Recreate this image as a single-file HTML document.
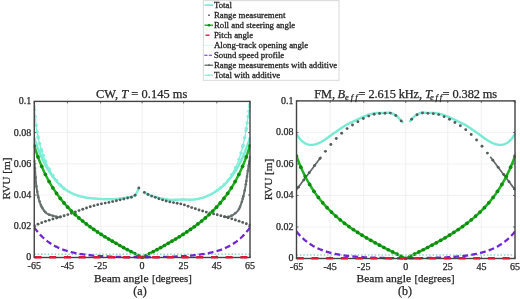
<!DOCTYPE html>
<html><head><meta charset="utf-8"><style>
html,body{margin:0;padding:0;background:#fff;width:520px;height:299px;overflow:hidden}
svg{display:block}
text{font-family:"Liberation Serif","DejaVu Serif",serif;fill:#262626;stroke:#262626;stroke-width:0.25px}
.tk{font-size:10px}
.ti{font-size:12.4px}
.sub{font-size:8.6px}
.lb{font-size:11px}
.xl{font-size:11.3px}
.ab{font-size:12px}
.lg{font-size:8.8px;stroke-width:0.3px}
</style></head><body>
<svg width="520" height="299" viewBox="0 0 520 299">
<rect width="520" height="299" fill="#fff"/>
<line x1="67.44" y1="101.4" x2="67.44" y2="257.5" stroke="#eeeeee" stroke-width="0.8"/>
<line x1="100.63" y1="101.4" x2="100.63" y2="257.5" stroke="#eeeeee" stroke-width="0.8"/>
<line x1="142.12" y1="101.4" x2="142.12" y2="257.5" stroke="#eeeeee" stroke-width="0.8"/>
<line x1="183.62" y1="101.4" x2="183.62" y2="257.5" stroke="#eeeeee" stroke-width="0.8"/>
<line x1="216.81" y1="101.4" x2="216.81" y2="257.5" stroke="#eeeeee" stroke-width="0.8"/>
<line x1="34.25" y1="226.28" x2="250" y2="226.28" stroke="#eeeeee" stroke-width="0.8"/>
<line x1="34.25" y1="195.06" x2="250" y2="195.06" stroke="#eeeeee" stroke-width="0.8"/>
<line x1="34.25" y1="163.84" x2="250" y2="163.84" stroke="#eeeeee" stroke-width="0.8"/>
<line x1="34.25" y1="132.62" x2="250" y2="132.62" stroke="#eeeeee" stroke-width="0.8"/>
<clipPath id="c34"><rect x="33.75" y="100.4" width="216.75" height="159.1"/></clipPath>
<g clip-path="url(#c34)">
<path d="M34.25 137.51 L34.85 139.45 L35.46 141.34 L36.06 143.16 L36.67 144.92 L37.27 146.63 L37.88 148.29 L38.48 149.89 L39.08 151.44 L39.69 152.94 L40.29 154.4 L40.9 155.82 L41.5 157.19 L42.11 158.52 L42.71 159.82 L43.32 161.07 L43.92 162.29 L44.52 163.48 L45.13 164.63 L45.73 165.75 L46.34 166.84 L46.94 167.9 L47.55 168.93 L48.15 169.93 L48.75 170.91 L49.36 171.85 L49.96 172.78 L50.57 173.67 L51.17 174.55 L51.78 175.4 L52.38 176.22 L52.99 177.03 L53.59 177.81 L54.19 178.57 L54.8 179.31 L55.4 180.03 L56.01 180.74 L56.61 181.42 L57.22 182.08 L57.82 182.73 L58.42 183.36 L59.03 183.97 L59.63 184.56 L60.24 185.14 L60.84 185.7 L61.45 186.24 L62.05 186.77 L62.66 187.28 L63.26 187.78 L63.86 188.26 L64.47 188.72 L65.07 189.17 L65.68 189.61 L66.28 190.03 L66.89 190.43 L67.49 190.82 L68.09 191.2 L68.7 191.56 L69.3 191.91 L69.91 192.25 L70.51 192.57 L71.12 192.88 L71.72 193.18 L72.33 193.47 L72.93 193.74 L73.53 194.01 L74.14 194.26 L74.74 194.51 L75.35 194.74 L75.95 194.97 L76.56 195.18 L77.16 195.39 L77.76 195.59 L78.37 195.79 L78.97 195.97 L79.58 196.15 L80.18 196.31 L80.79 196.47 L81.39 196.62 L82 196.76 L82.6 196.9 L83.2 197.03 L83.81 197.15 L84.41 197.26 L85.02 197.37 L85.62 197.48 L86.23 197.58 L86.83 197.68 L87.43 197.77 L88.04 197.86 L88.64 197.94 L89.25 198.02 L89.85 198.09 L90.46 198.15 L91.06 198.22 L91.67 198.27 L92.27 198.33 L92.87 198.38 L93.48 198.43 L94.08 198.47 L94.69 198.52 L95.29 198.56 L95.9 198.61 L96.5 198.65 L97.1 198.7 L97.71 198.74 L98.31 198.79 L98.92 198.84 L99.52 198.89 L100.13 198.94 L100.73 198.99 L101.33 199.04 L101.94 199.08 L102.54 199.12 L103.15 199.15 L103.75 199.18 L104.36 199.2 L104.96 199.23 L105.57 199.25 L106.17 199.27 L106.77 199.29 L107.38 199.3 L107.98 199.31 L108.59 199.32 L109.19 199.32 L109.8 199.32 L110.4 199.31 L111 199.3 L111.61 199.28 L112.21 199.26 L112.82 199.23 L113.42 199.2 L114.03 199.16 L114.63 199.12 L115.24 199.07 L115.84 199.02 L116.44 198.96 L117.05 198.9 L117.65 198.84 L118.26 198.77 L118.86 198.7 L119.47 198.63 L120.07 198.55 L120.67 198.48 L121.28 198.39 L121.88 198.31 L122.49 198.23 L123.09 198.14 L123.7 198.05 L124.3 197.96 L124.91 197.87 L125.51 197.78 L126.11 197.69 L126.72 197.59 L127.32 197.5 L127.93 197.42 L128.53 197.34 L129.14 197.26 L129.74 197.17 L130.34 197.06 L130.95 196.93 L131.55 196.78 L132.16 196.6 L132.76 196.4 L133.37 196.15 L133.97 195.85 L134.58 195.49 L135.18 195.02 L135.78 194.3 L136.39 193.36 L136.99 192.21 L137.6 190.91 L138.2 189.47 L138.81 187.93 M144.35 192.31 L144.94 192.66 L145.53 193 L146.12 193.33 L146.71 193.64 L147.3 193.95 L147.89 194.24 L148.48 194.52 L149.07 194.79 L149.66 195.04 L150.25 195.29 L150.84 195.52 L151.43 195.74 L152.02 195.94 L152.61 196.13 L153.2 196.3 L153.79 196.46 L154.38 196.61 L154.97 196.77 L155.56 196.92 L156.15 197.09 L156.74 197.27 L157.33 197.46 L157.92 197.64 L158.51 197.82 L159.1 197.98 L159.69 198.12 L160.29 198.26 L160.88 198.4 L161.47 198.53 L162.06 198.66 L162.65 198.78 L163.24 198.89 L163.83 199 L164.42 199.11 L165.01 199.21 L165.6 199.3 L166.19 199.39 L166.78 199.47 L167.37 199.54 L167.96 199.61 L168.55 199.67 L169.14 199.73 L169.73 199.77 L170.32 199.81 L170.91 199.84 L171.5 199.86 L172.09 199.87 L172.68 199.87 L173.27 199.87 L173.86 199.86 L174.45 199.84 L175.04 199.82 L175.63 199.8 L176.22 199.77 L176.81 199.75 L177.4 199.72 L177.99 199.69 L178.58 199.66 L179.17 199.63 L179.76 199.6 L180.35 199.58 L180.94 199.56 L181.53 199.54 L182.12 199.53 L182.71 199.52 L183.3 199.53 L183.89 199.54 L184.48 199.55 L185.07 199.57 L185.66 199.59 L186.26 199.61 L186.85 199.64 L187.44 199.66 L188.03 199.68 L188.62 199.69 L189.21 199.7 L189.8 199.71 L190.39 199.7 L190.98 199.69 L191.57 199.67 L192.16 199.65 L192.75 199.6 L193.34 199.55 L193.93 199.49 L194.52 199.42 L195.11 199.34 L195.7 199.26 L196.29 199.17 L196.88 199.07 L197.47 198.97 L198.06 198.85 L198.65 198.74 L199.24 198.61 L199.83 198.48 L200.42 198.34 L201.01 198.19 L201.6 198.03 L202.19 197.86 L202.78 197.69 L203.37 197.51 L203.96 197.32 L204.55 197.12 L205.14 196.91 L205.73 196.69 L206.32 196.47 L206.91 196.23 L207.5 195.98 L208.09 195.72 L208.68 195.46 L209.27 195.18 L209.86 194.89 L210.45 194.59 L211.04 194.28 L211.64 193.96 L212.23 193.63 L212.82 193.29 L213.41 192.95 L214 192.59 L214.59 192.22 L215.18 191.85 L215.77 191.46 L216.36 191.07 L216.95 190.66 L217.54 190.25 L218.13 189.83 L218.72 189.4 L219.31 188.95 L219.9 188.49 L220.49 188.03 L221.08 187.54 L221.67 187.05 L222.26 186.54 L222.85 186.02 L223.44 185.48 L224.03 184.93 L224.62 184.37 L225.21 183.79 L225.8 183.2 L226.39 182.59 L226.98 181.96 L227.57 181.32 L228.16 180.65 L228.75 179.98 L229.34 179.28 L229.93 178.56 L230.52 177.83 L231.11 177.07 L231.7 176.3 L232.29 175.5 L232.88 174.68 L233.47 173.84 L234.06 172.98 L234.65 172.09 L235.24 171.18 L235.83 170.24 L236.42 169.28 L237.01 168.29 L237.61 167.27 L238.2 166.23 L238.79 165.15 L239.38 164.04 L239.97 162.9 L240.56 161.73 L241.15 160.52 L241.74 159.28 L242.33 158 L242.92 156.69 L243.51 155.33 L244.1 153.93 L244.69 152.49 L245.28 151.01 L245.87 149.48 L246.46 147.9 L247.05 146.27 L247.64 144.59 L248.23 142.85 L248.82 141.06 L249.41 139.21 L250 137.3" fill="none" stroke="#78ead3" stroke-width="2.4" stroke-linejoin="round"/>
<path d="M34.25 106.71 L34.85 112.5 L35.46 119.11 L36.06 125.19 L36.67 129.47 L37.27 133.05 L37.88 136.21 L38.48 139.05 L39.08 141.65 L39.69 144.08 L40.29 146.34 L40.9 148.46 L41.5 150.45 L42.11 152.33 L42.71 154.11 L43.32 155.81 L43.92 157.44 L44.52 159 L45.13 160.5 L45.73 161.94 L46.34 163.31 L46.94 164.63 L47.55 165.9 L48.15 167.1 L48.75 168.26 L49.36 169.37 L49.96 170.44 L50.57 171.49 L51.17 172.51 L51.78 173.5 L52.38 174.49 L52.99 175.44 L53.59 176.36 L54.19 177.27 L54.8 178.16 L55.4 179.03 L56.01 179.9 L56.61 180.76 L57.22 181.6 L57.82 182.41 L58.42 183.18 L59.03 183.9 L59.63 184.55 L60.24 185.14 L60.84 185.7 L61.45 186.24 L62.05 186.77 L62.66 187.28 L63.26 187.78 L63.86 188.26 L64.47 188.72 L65.07 189.17 L65.68 189.61 L66.28 190.03 L66.89 190.43 L67.49 190.82 L68.09 191.2 L68.7 191.56 L69.3 191.91 L69.91 192.25 L70.51 192.57 L71.12 192.88 L71.72 193.18 L72.33 193.47 L72.93 193.74 L73.53 194.01 L74.14 194.26 L74.74 194.51 L75.35 194.74 L75.95 194.97 L76.56 195.18 L77.16 195.39 L77.76 195.59 L78.37 195.79 L78.97 195.97 L79.58 196.15 L80.18 196.31 L80.79 196.47 L81.39 196.62 L82 196.76 L82.6 196.9 L83.2 197.03 L83.81 197.15 L84.41 197.26 L85.02 197.37 L85.62 197.48 L86.23 197.58 L86.83 197.68 L87.43 197.77 L88.04 197.86 L88.64 197.94 L89.25 198.02 L89.85 198.09 L90.46 198.15 L91.06 198.22 L91.67 198.27 L92.27 198.33 L92.87 198.38 L93.48 198.43 L94.08 198.47 L94.69 198.52 L95.29 198.56 L95.9 198.61 L96.5 198.65 L97.1 198.7 L97.71 198.74 L98.31 198.79 L98.92 198.84 L99.52 198.89 L100.13 198.94 L100.73 198.99 L101.33 199.04 L101.94 199.08 L102.54 199.12 L103.15 199.15 L103.75 199.18 L104.36 199.2 L104.96 199.23 L105.57 199.25 L106.17 199.27 L106.77 199.29 L107.38 199.3 L107.98 199.31 L108.59 199.32 L109.19 199.32 L109.8 199.32 L110.4 199.31 L111 199.3 L111.61 199.28 L112.21 199.26 L112.82 199.23 L113.42 199.2 L114.03 199.16 L114.63 199.12 L115.24 199.07 L115.84 199.02 L116.44 198.96 L117.05 198.9 L117.65 198.84 L118.26 198.77 L118.86 198.7 L119.47 198.63 L120.07 198.55 L120.67 198.48 L121.28 198.39 L121.88 198.31 L122.49 198.23 L123.09 198.14 L123.7 198.05 L124.3 197.96 L124.91 197.87 L125.51 197.78 L126.11 197.69 L126.72 197.59 L127.32 197.5 L127.93 197.42 L128.53 197.34 L129.14 197.26 L129.74 197.17 L130.34 197.06 L130.95 196.93 L131.55 196.78 L132.16 196.6 L132.76 196.4 L133.37 196.15 L133.97 195.85 L134.58 195.49 L135.18 195.02 L135.78 194.3 L136.39 193.36 L136.99 192.21 L137.6 190.91 L138.2 189.47 L138.81 187.93 M144.35 192.31 L144.94 192.66 L145.53 193 L146.12 193.33 L146.71 193.64 L147.3 193.95 L147.89 194.24 L148.48 194.52 L149.07 194.79 L149.66 195.04 L150.25 195.29 L150.84 195.52 L151.43 195.74 L152.02 195.94 L152.61 196.13 L153.2 196.3 L153.79 196.46 L154.38 196.61 L154.97 196.77 L155.56 196.92 L156.15 197.09 L156.74 197.27 L157.33 197.46 L157.92 197.64 L158.51 197.82 L159.1 197.98 L159.69 198.12 L160.29 198.26 L160.88 198.4 L161.47 198.53 L162.06 198.66 L162.65 198.78 L163.24 198.89 L163.83 199 L164.42 199.11 L165.01 199.21 L165.6 199.3 L166.19 199.39 L166.78 199.47 L167.37 199.54 L167.96 199.61 L168.55 199.67 L169.14 199.73 L169.73 199.77 L170.32 199.81 L170.91 199.84 L171.5 199.86 L172.09 199.87 L172.68 199.87 L173.27 199.87 L173.86 199.86 L174.45 199.84 L175.04 199.82 L175.63 199.8 L176.22 199.77 L176.81 199.75 L177.4 199.72 L177.99 199.69 L178.58 199.66 L179.17 199.63 L179.76 199.6 L180.35 199.58 L180.94 199.56 L181.53 199.54 L182.12 199.53 L182.71 199.52 L183.3 199.53 L183.89 199.54 L184.48 199.55 L185.07 199.57 L185.66 199.59 L186.26 199.61 L186.85 199.64 L187.44 199.66 L188.03 199.68 L188.62 199.69 L189.21 199.7 L189.8 199.71 L190.39 199.7 L190.98 199.69 L191.57 199.67 L192.16 199.65 L192.75 199.6 L193.34 199.55 L193.93 199.49 L194.52 199.42 L195.11 199.34 L195.7 199.26 L196.29 199.17 L196.88 199.07 L197.47 198.97 L198.06 198.85 L198.65 198.74 L199.24 198.61 L199.83 198.48 L200.42 198.34 L201.01 198.19 L201.6 198.03 L202.19 197.86 L202.78 197.69 L203.37 197.51 L203.96 197.32 L204.55 197.12 L205.14 196.91 L205.73 196.69 L206.32 196.47 L206.91 196.23 L207.5 195.98 L208.09 195.72 L208.68 195.46 L209.27 195.18 L209.86 194.89 L210.45 194.59 L211.04 194.28 L211.64 193.96 L212.23 193.63 L212.82 193.29 L213.41 192.95 L214 192.59 L214.59 192.22 L215.18 191.85 L215.77 191.46 L216.36 191.07 L216.95 190.66 L217.54 190.25 L218.13 189.83 L218.72 189.4 L219.31 188.95 L219.9 188.49 L220.49 188.03 L221.08 187.54 L221.67 187.05 L222.26 186.54 L222.85 186.02 L223.44 185.48 L224.03 184.93 L224.62 184.37 L225.21 183.76 L225.8 183.12 L226.39 182.44 L226.98 181.72 L227.57 180.97 L228.16 180.18 L228.75 179.35 L229.34 178.49 L229.93 177.6 L230.52 176.67 L231.11 175.71 L231.7 174.72 L232.29 173.69 L232.88 172.63 L233.47 171.53 L234.06 170.4 L234.65 169.25 L235.24 168.08 L235.83 166.86 L236.42 165.61 L237.01 164.3 L237.61 162.93 L238.2 161.48 L238.79 159.94 L239.38 158.28 L239.97 156.48 L240.56 154.57 L241.15 152.55 L241.74 150.44 L242.33 148.21 L242.92 145.84 L243.51 143.31 L244.1 140.63 L244.69 137.78 L245.28 134.74 L245.87 131.47 L246.46 127.83 L247.05 123.89 L247.64 119.88 L248.23 116.04 L248.82 112.34 L249.41 108.47 L250 104.15" fill="none" stroke="#80eed8" stroke-width="1.3"/>
<circle cx="34.25" cy="106.71" r="1.7" fill="#80eed8"/><circle cx="37.98" cy="136.74" r="1.7" fill="#80eed8"/><circle cx="41.72" cy="151.13" r="1.7" fill="#80eed8"/><circle cx="45.45" cy="161.28" r="1.7" fill="#80eed8"/><circle cx="49.19" cy="169.06" r="1.7" fill="#80eed8"/><circle cx="52.92" cy="175.34" r="1.7" fill="#80eed8"/><circle cx="56.65" cy="180.82" r="1.7" fill="#80eed8"/><circle cx="60.39" cy="185.28" r="1.7" fill="#80eed8"/><circle cx="64.12" cy="188.46" r="1.7" fill="#80eed8"/><circle cx="217.21" cy="190.48" r="1.7" fill="#80eed8"/><circle cx="220.85" cy="187.73" r="1.7" fill="#80eed8"/><circle cx="224.5" cy="184.49" r="1.7" fill="#80eed8"/><circle cx="228.14" cy="180.21" r="1.7" fill="#80eed8"/><circle cx="231.78" cy="174.58" r="1.7" fill="#80eed8"/><circle cx="235.43" cy="167.7" r="1.7" fill="#80eed8"/><circle cx="239.07" cy="159.16" r="1.7" fill="#80eed8"/><circle cx="242.71" cy="146.67" r="1.7" fill="#80eed8"/><circle cx="246.36" cy="128.49" r="1.7" fill="#80eed8"/><circle cx="250" cy="104.15" r="1.7" fill="#80eed8"/><circle cx="34.58" cy="109.84" r="1.7" fill="#80eed8"/><circle cx="35.25" cy="116.73" r="1.7" fill="#80eed8"/><circle cx="36.08" cy="125.3" r="1.7" fill="#80eed8"/><circle cx="37.07" cy="131.91" r="1.7" fill="#80eed8"/><circle cx="38.23" cy="137.92" r="1.7" fill="#80eed8"/><circle cx="39.56" cy="143.57" r="1.7" fill="#80eed8"/><circle cx="41.22" cy="149.54" r="1.7" fill="#80eed8"/><circle cx="43.21" cy="155.52" r="1.7" fill="#80eed8"/><circle cx="241.04" cy="152.93" r="1.7" fill="#80eed8"/><circle cx="243.03" cy="145.37" r="1.7" fill="#80eed8"/><circle cx="244.69" cy="137.77" r="1.7" fill="#80eed8"/><circle cx="246.02" cy="130.59" r="1.7" fill="#80eed8"/><circle cx="247.18" cy="123" r="1.7" fill="#80eed8"/><circle cx="248.17" cy="116.39" r="1.7" fill="#80eed8"/><circle cx="249" cy="111.16" r="1.7" fill="#80eed8"/><circle cx="249.67" cy="106.64" r="1.7" fill="#80eed8"/>
<path d="M34.25 160.84 L34.58 164.28 L34.9 168.01 L35.23 172.37 L35.55 176.98 L35.88 181.29 L36.2 184.8 L36.53 187.3 L36.85 189.5 L37.18 191.49 L37.51 193.28 L37.83 194.9 L38.16 196.37 L38.48 197.71 L38.81 198.94 L39.13 200.09 L39.46 201.17 L39.79 202.19 L40.11 203.13 L40.44 204.01 L40.76 204.82 L41.09 205.58 L41.41 206.28 L41.74 206.93 L42.06 207.55 L42.39 208.12 L42.72 208.65 L43.04 209.16 L43.37 209.65 L43.69 210.11 L44.02 210.54 L44.34 210.96 L44.67 211.35 L45 211.71 L45.32 212.06 L45.65 212.38 L45.97 212.68 L46.3 212.97 L46.62 213.23 L46.95 213.47 L47.27 213.7 L47.6 213.91 L47.93 214.09 L48.25 214.26 L48.58 214.41 L48.9 214.55 L49.23 214.67 L49.55 214.79 L49.88 214.9 L50.21 215 L50.53 215.1 L50.86 215.19 L51.18 215.29 L51.51 215.38 L51.83 215.48 L52.16 215.58 L52.48 215.68 L52.81 215.77 L53.14 215.85 L53.46 215.93 L53.79 216 L54.11 216.08 L54.44 216.15 L54.76 216.23 L55.09 216.31 L55.42 216.39 L55.74 216.48 L56.07 216.58 L56.39 216.67 L56.72 216.77 L57.04 216.86 L57.37 216.95 L57.69 217.02 L58.02 217.09 L58.35 217.14 L58.67 217.16 L59 217.17 L59.32 217.15 L59.65 217.1 L59.97 217.02 M224.28 216.69 L224.6 216.77 L224.93 216.85 L225.25 216.9 L225.58 216.95 L225.9 216.99 L226.23 217.01 L226.56 217.02 L226.88 217.01 L227.21 217 L227.53 216.97 L227.86 216.93 L228.18 216.88 L228.51 216.82 L228.83 216.74 L229.16 216.66 L229.49 216.56 L229.81 216.45 L230.14 216.34 L230.46 216.21 L230.79 216.07 L231.11 215.92 L231.44 215.77 L231.77 215.6 L232.09 215.42 L232.42 215.23 L232.74 215.03 L233.07 214.82 L233.39 214.6 L233.72 214.37 L234.04 214.14 L234.37 213.91 L234.7 213.67 L235.02 213.43 L235.35 213.18 L235.67 212.93 L236 212.66 L236.32 212.37 L236.65 212.07 L236.98 211.74 L237.3 211.39 L237.63 211.01 L237.95 210.6 L238.28 210.16 L238.6 209.67 L238.93 209.13 L239.25 208.51 L239.58 207.84 L239.91 207.1 L240.23 206.31 L240.56 205.47 L240.88 204.58 L241.21 203.65 L241.53 202.69 L241.86 201.7 L242.19 200.65 L242.51 199.54 L242.84 198.36 L243.16 197.12 L243.49 195.82 L243.81 194.46 L244.14 193.04 L244.46 191.55 L244.79 189.99 L245.12 188.35 L245.44 186.62 L245.77 184.81 L246.09 182.84 L246.42 180.69 L246.74 178.41 L247.07 176.07 L247.4 173.74 L247.72 171.49 L248.05 169.38 L248.37 167.41 L248.7 165.5 L249.02 163.57 L249.35 161.53 L249.67 159.31 L250 156.9" fill="none" stroke="#67716f" stroke-width="2.0" stroke-linejoin="round"/>
<circle cx="34.25" cy="160.84" r="1.3" fill="#67716f"/><circle cx="37.98" cy="195.6" r="1.3" fill="#67716f"/><circle cx="41.72" cy="206.89" r="1.3" fill="#67716f"/><circle cx="45.45" cy="212.19" r="1.3" fill="#67716f"/><circle cx="49.19" cy="214.66" r="1.3" fill="#67716f"/><circle cx="52.92" cy="215.8" r="1.3" fill="#67716f"/><circle cx="56.65" cy="216.75" r="1.3" fill="#67716f"/><circle cx="60.39" cy="216.9" r="1.3" fill="#67716f"/><circle cx="224.5" cy="216.75" r="1.3" fill="#67716f"/><circle cx="228.14" cy="216.89" r="1.3" fill="#67716f"/><circle cx="231.78" cy="215.59" r="1.3" fill="#67716f"/><circle cx="235.43" cy="213.12" r="1.3" fill="#67716f"/><circle cx="239.07" cy="208.87" r="1.3" fill="#67716f"/><circle cx="242.71" cy="198.81" r="1.3" fill="#67716f"/><circle cx="246.36" cy="181.11" r="1.3" fill="#67716f"/><circle cx="250" cy="156.9" r="1.3" fill="#67716f"/><circle cx="34.91" cy="168.17" r="1.3" fill="#67716f"/><circle cx="35.58" cy="177.33" r="1.3" fill="#67716f"/><circle cx="36.41" cy="186.41" r="1.3" fill="#67716f"/><circle cx="37.24" cy="191.82" r="1.3" fill="#67716f"/><circle cx="38.4" cy="197.38" r="1.3" fill="#67716f"/><circle cx="39.56" cy="201.5" r="1.3" fill="#67716f"/><circle cx="40.89" cy="205.12" r="1.3" fill="#67716f"/><circle cx="42.38" cy="208.1" r="1.3" fill="#67716f"/><circle cx="44.21" cy="210.79" r="1.3" fill="#67716f"/><circle cx="240.04" cy="206.78" r="1.3" fill="#67716f"/><circle cx="241.87" cy="201.68" r="1.3" fill="#67716f"/><circle cx="243.36" cy="196.33" r="1.3" fill="#67716f"/><circle cx="244.69" cy="190.48" r="1.3" fill="#67716f"/><circle cx="245.85" cy="184.32" r="1.3" fill="#67716f"/><circle cx="247.01" cy="176.48" r="1.3" fill="#67716f"/><circle cx="247.84" cy="170.68" r="1.3" fill="#67716f"/><circle cx="248.67" cy="165.65" r="1.3" fill="#67716f"/><circle cx="249.34" cy="161.62" r="1.3" fill="#67716f"/>
<circle cx="34.25" cy="225.81" r="1.45" fill="#535d5b"/><circle cx="37.98" cy="224.16" r="1.45" fill="#535d5b"/><circle cx="41.72" cy="222.67" r="1.45" fill="#535d5b"/><circle cx="45.45" cy="221.35" r="1.45" fill="#535d5b"/><circle cx="49.19" cy="220.16" r="1.45" fill="#535d5b"/><circle cx="52.92" cy="219.05" r="1.45" fill="#535d5b"/><circle cx="56.65" cy="217.98" r="1.45" fill="#535d5b"/><circle cx="60.39" cy="216.9" r="1.45" fill="#535d5b"/><circle cx="64.12" cy="215.79" r="1.45" fill="#535d5b"/><circle cx="67.86" cy="214.58" r="1.45" fill="#535d5b"/><circle cx="71.59" cy="213.27" r="1.45" fill="#535d5b"/><circle cx="75.33" cy="211.92" r="1.45" fill="#535d5b"/><circle cx="79.06" cy="210.59" r="1.45" fill="#535d5b"/><circle cx="82.79" cy="209.27" r="1.45" fill="#535d5b"/><circle cx="86.53" cy="207.98" r="1.45" fill="#535d5b"/><circle cx="90.26" cy="206.78" r="1.45" fill="#535d5b"/><circle cx="94" cy="205.63" r="1.45" fill="#535d5b"/><circle cx="97.73" cy="204.64" r="1.45" fill="#535d5b"/><circle cx="101.46" cy="203.85" r="1.45" fill="#535d5b"/><circle cx="105.2" cy="203.11" r="1.45" fill="#535d5b"/><circle cx="108.93" cy="202.38" r="1.45" fill="#535d5b"/><circle cx="112.67" cy="201.61" r="1.45" fill="#535d5b"/><circle cx="116.4" cy="200.75" r="1.45" fill="#535d5b"/><circle cx="120.14" cy="199.84" r="1.45" fill="#535d5b"/><circle cx="123.87" cy="198.93" r="1.45" fill="#535d5b"/><circle cx="127.6" cy="198.05" r="1.45" fill="#535d5b"/><circle cx="131.34" cy="197.19" r="1.45" fill="#535d5b"/><circle cx="135.07" cy="195.32" r="1.45" fill="#535d5b"/><circle cx="138.81" cy="188.04" r="1.45" fill="#535d5b"/><circle cx="144.35" cy="192.41" r="1.45" fill="#535d5b"/><circle cx="147.99" cy="194.45" r="1.45" fill="#535d5b"/><circle cx="151.64" cy="196.11" r="1.45" fill="#535d5b"/><circle cx="155.28" cy="197.34" r="1.45" fill="#535d5b"/><circle cx="158.92" cy="198.7" r="1.45" fill="#535d5b"/><circle cx="162.56" cy="199.89" r="1.45" fill="#535d5b"/><circle cx="166.21" cy="200.97" r="1.45" fill="#535d5b"/><circle cx="169.85" cy="201.89" r="1.45" fill="#535d5b"/><circle cx="173.49" cy="202.61" r="1.45" fill="#535d5b"/><circle cx="177.14" cy="203.2" r="1.45" fill="#535d5b"/><circle cx="180.78" cy="203.88" r="1.45" fill="#535d5b"/><circle cx="184.42" cy="204.88" r="1.45" fill="#535d5b"/><circle cx="188.07" cy="206.2" r="1.45" fill="#535d5b"/><circle cx="191.71" cy="207.59" r="1.45" fill="#535d5b"/><circle cx="195.35" cy="208.8" r="1.45" fill="#535d5b"/><circle cx="199" cy="209.95" r="1.45" fill="#535d5b"/><circle cx="202.64" cy="211.04" r="1.45" fill="#535d5b"/><circle cx="206.28" cy="212.08" r="1.45" fill="#535d5b"/><circle cx="209.93" cy="213.01" r="1.45" fill="#535d5b"/><circle cx="213.57" cy="213.88" r="1.45" fill="#535d5b"/><circle cx="217.21" cy="214.77" r="1.45" fill="#535d5b"/><circle cx="220.85" cy="215.75" r="1.45" fill="#535d5b"/><circle cx="224.5" cy="216.75" r="1.45" fill="#535d5b"/><circle cx="228.14" cy="217.79" r="1.45" fill="#535d5b"/><circle cx="231.78" cy="218.87" r="1.45" fill="#535d5b"/><circle cx="235.43" cy="219.99" r="1.45" fill="#535d5b"/><circle cx="239.07" cy="221.16" r="1.45" fill="#535d5b"/><circle cx="242.71" cy="222.4" r="1.45" fill="#535d5b"/><circle cx="246.36" cy="223.69" r="1.45" fill="#535d5b"/><circle cx="250" cy="225.03" r="1.45" fill="#535d5b"/>
<path d="M34.25 145.76 L35.16 148.67 L36.06 151.45 L36.97 154.12 L37.88 156.67 L38.78 159.12 L39.69 161.48 L40.6 163.75 L41.5 165.93 L42.41 168.03 L43.32 170.06 L44.22 172.02 L45.13 173.91 L46.03 175.74 L46.94 177.51 L47.85 179.23 L48.75 180.89 L49.66 182.5 L50.57 184.07 L51.47 185.59 L52.38 187.06 L53.29 188.5 L54.19 189.89 L55.1 191.25 L56.01 192.58 L56.91 193.87 L57.82 195.13 L58.73 196.36 L59.63 197.55 L60.54 198.72 L61.45 199.87 L62.35 200.98 L63.26 202.08 L64.16 203.15 L65.07 204.19 L65.98 205.22 L66.88 206.22 L67.79 207.21 L68.7 208.17 L69.6 209.12 L70.51 210.04 L71.42 210.96 L72.32 211.85 L73.23 212.73 L74.14 213.59 L75.04 214.44 L75.95 215.27 L76.86 216.1 L77.76 216.9 L78.67 217.7 L79.58 218.48 L80.48 219.25 L81.39 220.01 L82.3 220.76 L83.2 221.49 L84.11 222.22 L85.01 222.94 L85.92 223.64 L86.83 224.34 L87.73 225.03 L88.64 225.71 L89.55 226.38 L90.45 227.05 L91.36 227.7 L92.27 228.35 L93.17 228.99 L94.08 229.63 L94.99 230.25 L95.89 230.87 L96.8 231.49 L97.71 232.1 L98.61 232.7 L99.52 233.29 L100.43 233.88 L101.33 234.47 L102.24 235.05 L103.14 235.62 L104.05 236.19 L104.96 236.76 L105.86 237.32 L106.77 237.88 L107.68 238.43 L108.58 238.98 L109.49 239.52 L110.4 240.06 L111.3 240.6 L112.21 241.13 L113.12 241.66 L114.02 242.19 L114.93 242.71 L115.84 243.23 L116.74 243.75 L117.65 244.26 L118.56 244.77 L119.46 245.28 L120.37 245.79 L121.28 246.29 L122.18 246.8 L123.09 247.3 L123.99 247.8 L124.9 248.29 L125.81 248.79 L126.71 249.28 L127.62 249.77 L128.53 250.26 L129.43 250.75 L130.34 251.24 L131.25 251.72 L132.15 252.21 L133.06 252.69 L133.97 253.18 L134.87 253.66 L135.78 254.14 L136.69 254.62 L137.59 255.1 L138.5 255.58 L139.41 256.06 L140.31 256.54 L141.22 257.02 L142.12 257.5 M142.12 257.5 L143.03 257.02 L143.94 256.54 L144.84 256.06 L145.75 255.58 L146.66 255.1 L147.56 254.62 L148.47 254.14 L149.38 253.66 L150.28 253.18 L151.19 252.69 L152.1 252.21 L153 251.72 L153.91 251.24 L154.82 250.75 L155.72 250.26 L156.63 249.77 L157.54 249.28 L158.44 248.79 L159.35 248.29 L160.26 247.8 L161.16 247.3 L162.07 246.8 L162.97 246.29 L163.88 245.79 L164.79 245.28 L165.69 244.77 L166.6 244.26 L167.51 243.75 L168.41 243.23 L169.32 242.71 L170.23 242.19 L171.13 241.66 L172.04 241.13 L172.95 240.6 L173.85 240.06 L174.76 239.52 L175.67 238.98 L176.57 238.43 L177.48 237.88 L178.39 237.32 L179.29 236.76 L180.2 236.19 L181.11 235.62 L182.01 235.05 L182.92 234.47 L183.82 233.88 L184.73 233.29 L185.64 232.7 L186.54 232.1 L187.45 231.49 L188.36 230.87 L189.26 230.25 L190.17 229.63 L191.08 228.99 L191.98 228.35 L192.89 227.7 L193.8 227.05 L194.7 226.38 L195.61 225.71 L196.52 225.03 L197.42 224.34 L198.33 223.64 L199.24 222.94 L200.14 222.22 L201.05 221.49 L201.95 220.76 L202.86 220.01 L203.77 219.25 L204.67 218.48 L205.58 217.7 L206.49 216.9 L207.39 216.1 L208.3 215.27 L209.21 214.44 L210.11 213.59 L211.02 212.73 L211.93 211.85 L212.83 210.96 L213.74 210.04 L214.65 209.12 L215.55 208.17 L216.46 207.21 L217.37 206.22 L218.27 205.22 L219.18 204.19 L220.09 203.15 L220.99 202.08 L221.9 200.98 L222.8 199.87 L223.71 198.72 L224.62 197.55 L225.52 196.36 L226.43 195.13 L227.34 193.87 L228.24 192.58 L229.15 191.25 L230.06 189.89 L230.96 188.5 L231.87 187.06 L232.78 185.59 L233.68 184.07 L234.59 182.5 L235.5 180.89 L236.4 179.23 L237.31 177.51 L238.22 175.74 L239.12 173.91 L240.03 172.02 L240.93 170.06 L241.84 168.03 L242.75 165.93 L243.65 163.75 L244.56 161.48 L245.47 159.12 L246.37 156.67 L247.28 154.12 L248.19 151.45 L249.09 148.67 L250 145.76" fill="none" stroke="#1eb21e" stroke-width="2.5"/>
<circle cx="34.25" cy="145.76" r="1.85" fill="#0e8c0e"/><circle cx="37.97" cy="156.93" r="1.85" fill="#0e8c0e"/><circle cx="41.69" cy="166.37" r="1.85" fill="#0e8c0e"/><circle cx="45.41" cy="174.49" r="1.85" fill="#0e8c0e"/><circle cx="49.13" cy="181.56" r="1.85" fill="#0e8c0e"/><circle cx="52.85" cy="187.81" r="1.85" fill="#0e8c0e"/><circle cx="56.57" cy="193.38" r="1.85" fill="#0e8c0e"/><circle cx="60.29" cy="198.4" r="1.85" fill="#0e8c0e"/><circle cx="64.01" cy="202.96" r="1.85" fill="#0e8c0e"/><circle cx="67.73" cy="207.14" r="1.85" fill="#0e8c0e"/><circle cx="71.45" cy="210.99" r="1.85" fill="#0e8c0e"/><circle cx="75.17" cy="214.56" r="1.85" fill="#0e8c0e"/><circle cx="78.89" cy="217.89" r="1.85" fill="#0e8c0e"/><circle cx="82.61" cy="221.01" r="1.85" fill="#0e8c0e"/><circle cx="86.33" cy="223.96" r="1.85" fill="#0e8c0e"/><circle cx="90.05" cy="226.75" r="1.85" fill="#0e8c0e"/><circle cx="93.77" cy="229.41" r="1.85" fill="#0e8c0e"/><circle cx="97.49" cy="231.95" r="1.85" fill="#0e8c0e"/><circle cx="101.21" cy="234.39" r="1.85" fill="#0e8c0e"/><circle cx="104.93" cy="236.74" r="1.85" fill="#0e8c0e"/><circle cx="108.65" cy="239.01" r="1.85" fill="#0e8c0e"/><circle cx="112.37" cy="241.22" r="1.85" fill="#0e8c0e"/><circle cx="116.09" cy="243.37" r="1.85" fill="#0e8c0e"/><circle cx="119.81" cy="245.48" r="1.85" fill="#0e8c0e"/><circle cx="123.53" cy="247.54" r="1.85" fill="#0e8c0e"/><circle cx="127.25" cy="249.57" r="1.85" fill="#0e8c0e"/><circle cx="130.97" cy="251.57" r="1.85" fill="#0e8c0e"/><circle cx="134.69" cy="253.56" r="1.85" fill="#0e8c0e"/><circle cx="138.41" cy="255.53" r="1.85" fill="#0e8c0e"/><circle cx="142.12" cy="257.5" r="1.85" fill="#0e8c0e"/><circle cx="145.84" cy="255.53" r="1.85" fill="#0e8c0e"/><circle cx="149.56" cy="253.56" r="1.85" fill="#0e8c0e"/><circle cx="153.28" cy="251.57" r="1.85" fill="#0e8c0e"/><circle cx="157" cy="249.57" r="1.85" fill="#0e8c0e"/><circle cx="160.72" cy="247.54" r="1.85" fill="#0e8c0e"/><circle cx="164.44" cy="245.48" r="1.85" fill="#0e8c0e"/><circle cx="168.16" cy="243.37" r="1.85" fill="#0e8c0e"/><circle cx="171.88" cy="241.22" r="1.85" fill="#0e8c0e"/><circle cx="175.6" cy="239.01" r="1.85" fill="#0e8c0e"/><circle cx="179.32" cy="236.74" r="1.85" fill="#0e8c0e"/><circle cx="183.04" cy="234.39" r="1.85" fill="#0e8c0e"/><circle cx="186.76" cy="231.95" r="1.85" fill="#0e8c0e"/><circle cx="190.48" cy="229.41" r="1.85" fill="#0e8c0e"/><circle cx="194.2" cy="226.75" r="1.85" fill="#0e8c0e"/><circle cx="197.92" cy="223.96" r="1.85" fill="#0e8c0e"/><circle cx="201.64" cy="221.01" r="1.85" fill="#0e8c0e"/><circle cx="205.36" cy="217.89" r="1.85" fill="#0e8c0e"/><circle cx="209.08" cy="214.56" r="1.85" fill="#0e8c0e"/><circle cx="212.8" cy="210.99" r="1.85" fill="#0e8c0e"/><circle cx="216.52" cy="207.14" r="1.85" fill="#0e8c0e"/><circle cx="220.24" cy="202.96" r="1.85" fill="#0e8c0e"/><circle cx="223.96" cy="198.4" r="1.85" fill="#0e8c0e"/><circle cx="227.68" cy="193.38" r="1.85" fill="#0e8c0e"/><circle cx="231.4" cy="187.81" r="1.85" fill="#0e8c0e"/><circle cx="235.12" cy="181.56" r="1.85" fill="#0e8c0e"/><circle cx="238.84" cy="174.49" r="1.85" fill="#0e8c0e"/><circle cx="242.56" cy="166.37" r="1.85" fill="#0e8c0e"/><circle cx="246.28" cy="156.93" r="1.85" fill="#0e8c0e"/><circle cx="250" cy="145.76" r="1.85" fill="#0e8c0e"/>
<path d="M34.25 254.22 L250 254.22" fill="none" stroke="#8ad8c4" stroke-width="1.6" stroke-dasharray="1.5 1.9"/>
<path d="M34.25 227.53 L35.62 229.37 L36.98 231.09 L38.35 232.71 L39.71 234.23 L41.08 235.66 L42.44 237 L43.81 238.26 L45.17 239.44 L46.54 240.54 L47.91 241.58 L49.27 242.56 L50.64 243.48 L52 244.34 L53.37 245.14 L54.73 245.9 L56.1 246.61 L57.46 247.28 L58.83 247.91 L60.19 248.5 L61.56 249.05 L62.93 249.57 L64.29 250.05 L65.66 250.51 L67.02 250.94 L68.39 251.34 L69.75 251.72 L71.12 252.07 L72.48 252.41 L73.85 252.72 L75.22 253.01 L76.58 253.29 L77.95 253.55 L79.31 253.79 L80.68 254.02 L82.04 254.23 L83.41 254.43 L84.77 254.62 L86.14 254.79 L87.5 254.96 L88.87 255.12 L90.24 255.26 L91.6 255.4 L92.97 255.53 L94.33 255.65 L95.7 255.76 L97.06 255.87 L98.43 255.97 L99.79 256.06 L101.16 256.15 L102.53 256.23 L103.89 256.31 L105.26 256.38 L106.62 256.45 L107.99 256.52 L109.35 256.58 L110.72 256.63 L112.08 256.69 L113.45 256.74 L114.81 256.78 L116.18 256.83 L117.55 256.87 L118.91 256.91 L120.28 256.94 L121.64 256.98 L123.01 257.01 L124.37 257.04 L125.74 257.07 L127.1 257.09 L128.47 257.12 L129.84 257.14 L131.2 257.16 L132.57 257.19 L133.93 257.2 L135.3 257.22 L136.66 257.24 L138.03 257.26 L139.39 257.27 L140.76 257.28 L142.12 257.3" fill="none" stroke="#7126d6" stroke-width="2.3" stroke-dasharray="5.8 3.2"/>
<path d="M250 227.53 L248.63 229.37 L247.27 231.09 L245.9 232.71 L244.54 234.23 L243.17 235.66 L241.81 237 L240.44 238.26 L239.08 239.44 L237.71 240.54 L236.34 241.58 L234.98 242.56 L233.61 243.48 L232.25 244.34 L230.88 245.14 L229.52 245.9 L228.15 246.61 L226.79 247.28 L225.42 247.91 L224.06 248.5 L222.69 249.05 L221.32 249.57 L219.96 250.05 L218.59 250.51 L217.23 250.94 L215.86 251.34 L214.5 251.72 L213.13 252.07 L211.77 252.41 L210.4 252.72 L209.03 253.01 L207.67 253.29 L206.3 253.55 L204.94 253.79 L203.57 254.02 L202.21 254.23 L200.84 254.43 L199.48 254.62 L198.11 254.79 L196.75 254.96 L195.38 255.12 L194.01 255.26 L192.65 255.4 L191.28 255.53 L189.92 255.65 L188.55 255.76 L187.19 255.87 L185.82 255.97 L184.46 256.06 L183.09 256.15 L181.72 256.23 L180.36 256.31 L178.99 256.38 L177.63 256.45 L176.26 256.52 L174.9 256.58 L173.53 256.63 L172.17 256.69 L170.8 256.74 L169.44 256.78 L168.07 256.83 L166.7 256.87 L165.34 256.91 L163.97 256.94 L162.61 256.98 L161.24 257.01 L159.88 257.04 L158.51 257.07 L157.15 257.09 L155.78 257.12 L154.41 257.14 L153.05 257.16 L151.68 257.19 L150.32 257.2 L148.95 257.22 L147.59 257.24 L146.22 257.26 L144.86 257.27 L143.49 257.28 L142.12 257.3" fill="none" stroke="#7126d6" stroke-width="2.3" stroke-dasharray="5.8 3.2"/>
</g>
<rect x="34.25" y="101.4" width="215.75" height="156.1" fill="none" stroke="#424242" stroke-width="1.4"/>
<path d="M34.25 257.19 L250 257.19" fill="none" stroke="#e0183a" stroke-width="2.4" stroke-dasharray="7 7.7" stroke-dashoffset="-0.3"/>
<line x1="34.25" y1="257.5" x2="34.25" y2="255.5" stroke="#424242" stroke-width="0.8"/>
<line x1="34.25" y1="101.4" x2="34.25" y2="103.4" stroke="#424242" stroke-width="0.8"/>
<line x1="67.44" y1="257.5" x2="67.44" y2="255.5" stroke="#424242" stroke-width="0.8"/>
<line x1="67.44" y1="101.4" x2="67.44" y2="103.4" stroke="#424242" stroke-width="0.8"/>
<line x1="100.63" y1="257.5" x2="100.63" y2="255.5" stroke="#424242" stroke-width="0.8"/>
<line x1="100.63" y1="101.4" x2="100.63" y2="103.4" stroke="#424242" stroke-width="0.8"/>
<line x1="142.12" y1="257.5" x2="142.12" y2="255.5" stroke="#424242" stroke-width="0.8"/>
<line x1="142.12" y1="101.4" x2="142.12" y2="103.4" stroke="#424242" stroke-width="0.8"/>
<line x1="183.62" y1="257.5" x2="183.62" y2="255.5" stroke="#424242" stroke-width="0.8"/>
<line x1="183.62" y1="101.4" x2="183.62" y2="103.4" stroke="#424242" stroke-width="0.8"/>
<line x1="216.81" y1="257.5" x2="216.81" y2="255.5" stroke="#424242" stroke-width="0.8"/>
<line x1="216.81" y1="101.4" x2="216.81" y2="103.4" stroke="#424242" stroke-width="0.8"/>
<line x1="250" y1="257.5" x2="250" y2="255.5" stroke="#424242" stroke-width="0.8"/>
<line x1="250" y1="101.4" x2="250" y2="103.4" stroke="#424242" stroke-width="0.8"/>
<line x1="34.25" y1="257.5" x2="36.25" y2="257.5" stroke="#424242" stroke-width="0.8"/>
<line x1="250" y1="257.5" x2="248" y2="257.5" stroke="#424242" stroke-width="0.8"/>
<line x1="34.25" y1="226.28" x2="36.25" y2="226.28" stroke="#424242" stroke-width="0.8"/>
<line x1="250" y1="226.28" x2="248" y2="226.28" stroke="#424242" stroke-width="0.8"/>
<line x1="34.25" y1="195.06" x2="36.25" y2="195.06" stroke="#424242" stroke-width="0.8"/>
<line x1="250" y1="195.06" x2="248" y2="195.06" stroke="#424242" stroke-width="0.8"/>
<line x1="34.25" y1="163.84" x2="36.25" y2="163.84" stroke="#424242" stroke-width="0.8"/>
<line x1="250" y1="163.84" x2="248" y2="163.84" stroke="#424242" stroke-width="0.8"/>
<line x1="34.25" y1="132.62" x2="36.25" y2="132.62" stroke="#424242" stroke-width="0.8"/>
<line x1="250" y1="132.62" x2="248" y2="132.62" stroke="#424242" stroke-width="0.8"/>
<line x1="34.25" y1="101.4" x2="36.25" y2="101.4" stroke="#424242" stroke-width="0.8"/>
<line x1="250" y1="101.4" x2="248" y2="101.4" stroke="#424242" stroke-width="0.8"/>
<text x="34.25" y="268.8" class="tk" text-anchor="middle">-65</text>
<text x="67.44" y="268.8" class="tk" text-anchor="middle">-45</text>
<text x="100.63" y="268.8" class="tk" text-anchor="middle">-25</text>
<text x="142.12" y="268.8" class="tk" text-anchor="middle">0</text>
<text x="183.62" y="268.8" class="tk" text-anchor="middle">25</text>
<text x="216.81" y="268.8" class="tk" text-anchor="middle">45</text>
<text x="250" y="268.8" class="tk" text-anchor="middle">65</text>
<text x="31.25" y="260.4" class="tk" text-anchor="end">0</text>
<text x="31.25" y="229.18" class="tk" text-anchor="end">0.02</text>
<text x="31.25" y="197.96" class="tk" text-anchor="end">0.04</text>
<text x="31.25" y="166.74" class="tk" text-anchor="end">0.06</text>
<text x="31.25" y="135.52" class="tk" text-anchor="end">0.08</text>
<text x="31.25" y="104.3" class="tk" text-anchor="end">0.1</text>
<line x1="330.12" y1="100.9" x2="330.12" y2="258.5" stroke="#eeeeee" stroke-width="0.8"/>
<line x1="363.73" y1="100.9" x2="363.73" y2="258.5" stroke="#eeeeee" stroke-width="0.8"/>
<line x1="405.75" y1="100.9" x2="405.75" y2="258.5" stroke="#eeeeee" stroke-width="0.8"/>
<line x1="447.77" y1="100.9" x2="447.77" y2="258.5" stroke="#eeeeee" stroke-width="0.8"/>
<line x1="481.38" y1="100.9" x2="481.38" y2="258.5" stroke="#eeeeee" stroke-width="0.8"/>
<line x1="296.5" y1="226.98" x2="515" y2="226.98" stroke="#eeeeee" stroke-width="0.8"/>
<line x1="296.5" y1="195.46" x2="515" y2="195.46" stroke="#eeeeee" stroke-width="0.8"/>
<line x1="296.5" y1="163.94" x2="515" y2="163.94" stroke="#eeeeee" stroke-width="0.8"/>
<line x1="296.5" y1="132.42" x2="515" y2="132.42" stroke="#eeeeee" stroke-width="0.8"/>
<clipPath id="c296"><rect x="296" y="99.9" width="219.5" height="160.6"/></clipPath>
<g clip-path="url(#c296)">
<path d="M296.5 133.92 L297.17 135.03 L297.84 136.07 L298.51 137.04 L299.19 137.94 L299.86 138.77 L300.53 139.54 L301.2 140.25 L301.87 140.9 L302.54 141.49 L303.21 142.03 L303.88 142.52 L304.56 142.95 L305.23 143.34 L305.9 143.68 L306.57 143.97 L307.24 144.22 L307.91 144.43 L308.58 144.6 L309.25 144.73 L309.93 144.82 L310.6 144.88 L311.27 144.89 L311.94 144.88 L312.61 144.83 L313.28 144.75 L313.95 144.64 L314.62 144.5 L315.3 144.34 L315.97 144.15 L316.64 143.93 L317.31 143.7 L317.98 143.44 L318.65 143.15 L319.32 142.85 L319.99 142.53 L320.67 142.19 L321.34 141.84 L322.01 141.47 L322.68 141.08 L323.35 140.67 L324.02 140.26 L324.69 139.83 L325.36 139.39 L326.04 138.94 L326.71 138.48 L327.38 138 L328.05 137.52 L328.72 137.02 L329.39 136.52 L330.06 136.01 L330.73 135.51 L331.41 135.02 L332.08 134.54 L332.75 134.06 L333.42 133.58 L334.09 133.11 L334.76 132.63 L335.43 132.16 L336.1 131.7 L336.78 131.23 L337.45 130.76 L338.12 130.3 L338.79 129.83 L339.46 129.36 L340.13 128.9 L340.8 128.44 L341.47 127.99 L342.15 127.55 L342.82 127.12 L343.49 126.69 L344.16 126.26 L344.83 125.84 L345.5 125.43 L346.17 125.03 L346.84 124.63 L347.52 124.26 L348.19 123.89 L348.86 123.55 L349.53 123.22 L350.2 122.9 L350.87 122.59 L351.54 122.28 L352.21 121.97 L352.89 121.67 L353.56 121.35 L354.23 121.03 L354.9 120.71 L355.57 120.4 L356.24 120.08 L356.91 119.76 L357.58 119.45 L358.26 119.13 L358.93 118.81 L359.6 118.49 L360.27 118.16 L360.94 117.85 L361.61 117.54 L362.28 117.24 L362.95 116.95 L363.63 116.67 L364.3 116.41 L364.97 116.14 L365.64 115.89 L366.31 115.65 L366.98 115.41 L367.65 115.18 L368.32 114.95 L369 114.71 L369.67 114.47 L370.34 114.25 L371.01 114.04 L371.68 113.85 L372.35 113.69 L373.02 113.57 L373.69 113.46 L374.37 113.35 L375.04 113.25 L375.71 113.17 L376.38 113.09 L377.05 113.03 L377.72 112.99 L378.39 112.96 L379.06 112.95 L379.74 112.94 L380.41 112.93 L381.08 112.93 L381.75 112.92 L382.42 112.92 L383.09 112.92 L383.76 112.91 L384.43 112.89 L385.11 112.87 L385.78 112.85 L386.45 112.82 L387.12 112.8 L387.79 112.78 L388.46 112.77 L389.13 112.77 L389.8 112.79 L390.48 112.88 L391.15 113.05 L391.82 113.3 L392.49 113.59 L393.16 113.93 L393.83 114.3 L394.5 114.67 L395.17 115.05 L395.85 115.47 L396.52 115.97 L397.19 116.52 L397.86 117.13 L398.53 117.79 L399.2 118.5 L399.87 119.25 L400.54 120.04 L401.22 120.86 L401.89 121.52 L402.56 122.19 L403.23 122.85 M409.28 121.85 L409.94 121.19 L410.61 120.46 L411.27 119.66 L411.94 118.9 L412.6 118.17 L413.27 117.49 L413.93 116.86 L414.6 116.28 L415.26 115.75 L415.93 115.29 L416.59 114.9 L417.26 114.52 L417.92 114.16 L418.59 113.8 L419.25 113.48 L419.92 113.2 L420.58 112.99 L421.25 112.84 L421.91 112.78 L422.58 112.77 L423.24 112.77 L423.91 112.78 L424.57 112.8 L425.24 112.83 L425.9 112.86 L426.57 112.88 L427.23 112.9 L427.9 112.91 L428.56 112.92 L429.23 112.92 L429.89 112.92 L430.56 112.93 L431.22 112.93 L431.89 112.94 L432.55 112.95 L433.22 112.97 L433.88 113 L434.55 113.04 L435.21 113.1 L435.88 113.18 L436.54 113.26 L437.21 113.36 L437.87 113.47 L438.54 113.58 L439.2 113.71 L439.87 113.87 L440.53 114.05 L441.2 114.26 L441.86 114.48 L442.53 114.72 L443.19 114.95 L443.85 115.18 L444.52 115.41 L445.18 115.65 L445.85 115.89 L446.51 116.14 L447.18 116.4 L447.84 116.66 L448.51 116.93 L449.17 117.22 L449.84 117.52 L450.5 117.82 L451.17 118.14 L451.83 118.45 L452.5 118.77 L453.16 119.09 L453.83 119.41 L454.49 119.72 L455.16 120.03 L455.82 120.35 L456.49 120.66 L457.15 120.97 L457.82 121.29 L458.48 121.6 L459.15 121.91 L459.81 122.21 L460.48 122.52 L461.14 122.83 L461.81 123.14 L462.47 123.46 L463.14 123.8 L463.8 124.16 L464.47 124.53 L465.13 124.91 L465.8 125.31 L466.46 125.71 L467.13 126.13 L467.79 126.55 L468.46 126.97 L469.12 127.4 L469.79 127.83 L470.45 128.28 L471.12 128.73 L471.78 129.18 L472.45 129.64 L473.11 130.11 L473.78 130.57 L474.44 131.03 L475.11 131.49 L475.77 131.96 L476.44 132.42 L477.1 132.89 L477.77 133.36 L478.43 133.83 L479.09 134.3 L479.76 134.78 L480.42 135.26 L481.09 135.76 L481.75 136.25 L482.42 136.75 L483.08 137.24 L483.75 137.73 L484.41 138.21 L485.08 138.68 L485.74 139.13 L486.41 139.57 L487.07 140 L487.74 140.42 L488.4 140.83 L489.07 141.22 L489.73 141.6 L490.4 141.96 L491.06 142.31 L491.73 142.64 L492.39 142.95 L493.06 143.24 L493.72 143.52 L494.39 143.77 L495.05 144 L495.72 144.2 L496.38 144.39 L497.05 144.54 L497.71 144.67 L498.38 144.77 L499.04 144.84 L499.71 144.88 L500.37 144.89 L501.04 144.87 L501.7 144.81 L502.37 144.71 L503.03 144.58 L503.7 144.4 L504.36 144.19 L505.03 143.93 L505.69 143.64 L506.36 143.3 L507.02 142.91 L507.69 142.47 L508.35 141.98 L509.02 141.45 L509.68 140.85 L510.35 140.21 L511.01 139.5 L511.68 138.74 L512.34 137.91 L513.01 137.01 L513.67 136.05 L514.34 135.02 L515 133.92" fill="none" stroke="#78ead3" stroke-width="2.4" stroke-linejoin="round"/>
<path d="M296.5 189.63 L297.35 188.5 L298.2 187.37 L299.06 186.24 L299.91 185.12 L300.76 183.99 L301.61 182.86 L302.46 181.73 L303.32 180.6 L304.17 179.47 L305.02 178.34 L305.87 177.21 L306.72 176.08 L307.58 174.95 L308.43 173.82 L309.28 172.69 L310.13 171.56 L310.98 170.43 L311.84 169.29 L312.69 168.15 L313.54 167.02 L314.39 165.88 L315.24 164.74 L316.1 163.61 L316.95 162.47 L317.8 161.34 L318.65 160.21 L319.5 159.09 L320.36 157.96 L321.21 156.85 M490.29 156.85 L491.14 157.96 L492 159.09 L492.85 160.21 L493.7 161.34 L494.55 162.47 L495.4 163.61 L496.26 164.74 L497.11 165.88 L497.96 167.02 L498.81 168.15 L499.66 169.29 L500.52 170.43 L501.37 171.56 L502.22 172.69 L503.07 173.82 L503.92 174.95 L504.78 176.08 L505.63 177.21 L506.48 178.34 L507.33 179.47 L508.18 180.6 L509.04 181.73 L509.89 182.86 L510.74 183.99 L511.59 185.12 L512.44 186.24 L513.3 187.37 L514.15 188.5 L515 189.63" fill="none" stroke="#646868" stroke-width="1.7"/>
<circle cx="298.38" cy="187.14" r="1.45" fill="#535d5b"/><circle cx="303.79" cy="179.97" r="1.45" fill="#535d5b"/><circle cx="309.21" cy="172.79" r="1.45" fill="#535d5b"/><circle cx="314.62" cy="165.57" r="1.45" fill="#535d5b"/><circle cx="320.03" cy="158.39" r="1.45" fill="#535d5b"/><circle cx="325.44" cy="151.36" r="1.45" fill="#535d5b"/><circle cx="330.85" cy="144.56" r="1.45" fill="#535d5b"/><circle cx="336.27" cy="138.57" r="1.45" fill="#535d5b"/><circle cx="341.68" cy="133.21" r="1.45" fill="#535d5b"/><circle cx="347.09" cy="128.6" r="1.45" fill="#535d5b"/><circle cx="352.5" cy="124.99" r="1.45" fill="#535d5b"/><circle cx="357.92" cy="121.68" r="1.45" fill="#535d5b"/><circle cx="363.33" cy="118.57" r="1.45" fill="#535d5b"/><circle cx="368.74" cy="116.1" r="1.45" fill="#535d5b"/><circle cx="374.15" cy="114.3" r="1.45" fill="#535d5b"/><circle cx="379.56" cy="113.57" r="1.45" fill="#535d5b"/><circle cx="384.98" cy="113.28" r="1.45" fill="#535d5b"/><circle cx="390.39" cy="113.1" r="1.45" fill="#535d5b"/><circle cx="395.8" cy="115.57" r="1.45" fill="#535d5b"/><circle cx="401.21" cy="120.92" r="1.45" fill="#535d5b"/><circle cx="411.63" cy="119.32" r="1.45" fill="#535d5b"/><circle cx="417.04" cy="114.79" r="1.45" fill="#535d5b"/><circle cx="422.46" cy="113.04" r="1.45" fill="#535d5b"/><circle cx="427.87" cy="113.36" r="1.45" fill="#535d5b"/><circle cx="433.28" cy="113.66" r="1.45" fill="#535d5b"/><circle cx="438.69" cy="114.61" r="1.45" fill="#535d5b"/><circle cx="444.11" cy="116.67" r="1.45" fill="#535d5b"/><circle cx="449.52" cy="119.28" r="1.45" fill="#535d5b"/><circle cx="454.93" cy="122.48" r="1.45" fill="#535d5b"/><circle cx="460.34" cy="125.82" r="1.45" fill="#535d5b"/><circle cx="465.75" cy="129.67" r="1.45" fill="#535d5b"/><circle cx="471.17" cy="134.48" r="1.45" fill="#535d5b"/><circle cx="476.58" cy="139.99" r="1.45" fill="#535d5b"/><circle cx="481.99" cy="146.2" r="1.45" fill="#535d5b"/><circle cx="487.4" cy="153.08" r="1.45" fill="#535d5b"/><circle cx="492.81" cy="160.17" r="1.45" fill="#535d5b"/><circle cx="498.23" cy="167.37" r="1.45" fill="#535d5b"/><circle cx="503.64" cy="174.57" r="1.45" fill="#535d5b"/><circle cx="509.05" cy="181.75" r="1.45" fill="#535d5b"/><circle cx="514.46" cy="188.92" r="1.45" fill="#535d5b"/>
<path d="M296.5 156.09 L297.42 158.59 L298.34 160.99 L299.25 163.3 L300.17 165.52 L301.09 167.66 L302.01 169.73 L302.93 171.72 L303.84 173.65 L304.76 175.51 L305.68 177.31 L306.6 179.05 L307.52 180.74 L308.43 182.38 L309.35 183.97 L310.27 185.51 L311.19 187 L312.11 188.46 L313.03 189.87 L313.94 191.25 L314.86 192.59 L315.78 193.9 L316.7 195.17 L317.62 196.41 L318.53 197.62 L319.45 198.8 L320.37 199.95 L321.29 201.08 L322.21 202.18 L323.12 203.26 L324.04 204.31 L324.96 205.34 L325.88 206.35 L326.8 207.34 L327.71 208.3 L328.63 209.25 L329.55 210.18 L330.47 211.1 L331.39 211.99 L332.3 212.87 L333.22 213.73 L334.14 214.58 L335.06 215.41 L335.98 216.23 L336.89 217.04 L337.81 217.83 L338.73 218.61 L339.65 219.38 L340.57 220.13 L341.49 220.87 L342.4 221.61 L343.32 222.33 L344.24 223.04 L345.16 223.74 L346.08 224.43 L346.99 225.12 L347.91 225.79 L348.83 226.45 L349.75 227.11 L350.67 227.76 L351.58 228.4 L352.5 229.03 L353.42 229.65 L354.34 230.27 L355.26 230.88 L356.17 231.49 L357.09 232.09 L358.01 232.68 L358.93 233.26 L359.85 233.84 L360.76 234.42 L361.68 234.98 L362.6 235.55 L363.52 236.1 L364.44 236.66 L365.36 237.21 L366.27 237.75 L367.19 238.29 L368.11 238.82 L369.03 239.35 L369.95 239.88 L370.86 240.4 L371.78 240.92 L372.7 241.44 L373.62 241.95 L374.54 242.46 L375.45 242.96 L376.37 243.46 L377.29 243.96 L378.21 244.46 L379.13 244.95 L380.04 245.44 L380.96 245.93 L381.88 246.42 L382.8 246.9 L383.72 247.38 L384.63 247.86 L385.55 248.34 L386.47 248.81 L387.39 249.28 L388.31 249.75 L389.22 250.22 L390.14 250.69 L391.06 251.16 L391.98 251.62 L392.9 252.09 L393.82 252.55 L394.73 253.01 L395.65 253.47 L396.57 253.93 L397.49 254.39 L398.41 254.85 L399.32 255.31 L400.24 255.77 L401.16 256.22 L402.08 256.68 L403 257.13 L403.91 257.59 L404.83 258.04 L405.75 258.5 M405.75 258.5 L406.67 258.04 L407.59 257.59 L408.5 257.13 L409.42 256.68 L410.34 256.22 L411.26 255.77 L412.18 255.31 L413.09 254.85 L414.01 254.39 L414.93 253.93 L415.85 253.47 L416.77 253.01 L417.68 252.55 L418.6 252.09 L419.52 251.62 L420.44 251.16 L421.36 250.69 L422.28 250.22 L423.19 249.75 L424.11 249.28 L425.03 248.81 L425.95 248.34 L426.87 247.86 L427.78 247.38 L428.7 246.9 L429.62 246.42 L430.54 245.93 L431.46 245.44 L432.37 244.95 L433.29 244.46 L434.21 243.96 L435.13 243.46 L436.05 242.96 L436.96 242.46 L437.88 241.95 L438.8 241.44 L439.72 240.92 L440.64 240.4 L441.55 239.88 L442.47 239.35 L443.39 238.82 L444.31 238.29 L445.23 237.75 L446.14 237.21 L447.06 236.66 L447.98 236.1 L448.9 235.55 L449.82 234.98 L450.74 234.42 L451.65 233.84 L452.57 233.26 L453.49 232.68 L454.41 232.09 L455.33 231.49 L456.24 230.88 L457.16 230.27 L458.08 229.65 L459 229.03 L459.92 228.4 L460.83 227.76 L461.75 227.11 L462.67 226.45 L463.59 225.79 L464.51 225.12 L465.42 224.43 L466.34 223.74 L467.26 223.04 L468.18 222.33 L469.1 221.61 L470.01 220.87 L470.93 220.13 L471.85 219.38 L472.77 218.61 L473.69 217.83 L474.61 217.04 L475.52 216.23 L476.44 215.41 L477.36 214.58 L478.28 213.73 L479.2 212.87 L480.11 211.99 L481.03 211.1 L481.95 210.18 L482.87 209.25 L483.79 208.3 L484.7 207.34 L485.62 206.35 L486.54 205.34 L487.46 204.31 L488.38 203.26 L489.29 202.18 L490.21 201.08 L491.13 199.95 L492.05 198.8 L492.97 197.62 L493.88 196.41 L494.8 195.17 L495.72 193.9 L496.64 192.59 L497.56 191.25 L498.47 189.87 L499.39 188.46 L500.31 187 L501.23 185.51 L502.15 183.97 L503.07 182.38 L503.98 180.74 L504.9 179.05 L505.82 177.31 L506.74 175.51 L507.66 173.65 L508.57 171.72 L509.49 169.73 L510.41 167.66 L511.33 165.52 L512.25 163.3 L513.16 160.99 L514.08 158.59 L515 156.09" fill="none" stroke="#1eb21e" stroke-width="2.5"/>
<circle cx="296.5" cy="156.09" r="1.85" fill="#0e8c0e"/><circle cx="300.87" cy="167.16" r="1.85" fill="#0e8c0e"/><circle cx="305.24" cy="176.45" r="1.85" fill="#0e8c0e"/><circle cx="309.61" cy="184.4" r="1.85" fill="#0e8c0e"/><circle cx="313.98" cy="191.31" r="1.85" fill="#0e8c0e"/><circle cx="318.35" cy="197.38" r="1.85" fill="#0e8c0e"/><circle cx="322.72" cy="202.79" r="1.85" fill="#0e8c0e"/><circle cx="327.09" cy="207.65" r="1.85" fill="#0e8c0e"/><circle cx="331.46" cy="212.06" r="1.85" fill="#0e8c0e"/><circle cx="335.83" cy="216.1" r="1.85" fill="#0e8c0e"/><circle cx="340.2" cy="219.83" r="1.85" fill="#0e8c0e"/><circle cx="344.57" cy="223.29" r="1.85" fill="#0e8c0e"/><circle cx="348.94" cy="226.53" r="1.85" fill="#0e8c0e"/><circle cx="353.31" cy="229.58" r="1.85" fill="#0e8c0e"/><circle cx="357.68" cy="232.46" r="1.85" fill="#0e8c0e"/><circle cx="362.05" cy="235.21" r="1.85" fill="#0e8c0e"/><circle cx="366.42" cy="237.84" r="1.85" fill="#0e8c0e"/><circle cx="370.79" cy="240.36" r="1.85" fill="#0e8c0e"/><circle cx="375.16" cy="242.8" r="1.85" fill="#0e8c0e"/><circle cx="379.53" cy="245.17" r="1.85" fill="#0e8c0e"/><circle cx="383.9" cy="247.48" r="1.85" fill="#0e8c0e"/><circle cx="388.27" cy="249.74" r="1.85" fill="#0e8c0e"/><circle cx="392.64" cy="251.96" r="1.85" fill="#0e8c0e"/><circle cx="397.01" cy="254.15" r="1.85" fill="#0e8c0e"/><circle cx="401.38" cy="256.33" r="1.85" fill="#0e8c0e"/><circle cx="405.75" cy="258.5" r="1.85" fill="#0e8c0e"/><circle cx="410.12" cy="256.33" r="1.85" fill="#0e8c0e"/><circle cx="414.49" cy="254.15" r="1.85" fill="#0e8c0e"/><circle cx="418.86" cy="251.96" r="1.85" fill="#0e8c0e"/><circle cx="423.23" cy="249.74" r="1.85" fill="#0e8c0e"/><circle cx="427.6" cy="247.48" r="1.85" fill="#0e8c0e"/><circle cx="431.97" cy="245.17" r="1.85" fill="#0e8c0e"/><circle cx="436.34" cy="242.8" r="1.85" fill="#0e8c0e"/><circle cx="440.71" cy="240.36" r="1.85" fill="#0e8c0e"/><circle cx="445.08" cy="237.84" r="1.85" fill="#0e8c0e"/><circle cx="449.45" cy="235.21" r="1.85" fill="#0e8c0e"/><circle cx="453.82" cy="232.46" r="1.85" fill="#0e8c0e"/><circle cx="458.19" cy="229.58" r="1.85" fill="#0e8c0e"/><circle cx="462.56" cy="226.53" r="1.85" fill="#0e8c0e"/><circle cx="466.93" cy="223.29" r="1.85" fill="#0e8c0e"/><circle cx="471.3" cy="219.83" r="1.85" fill="#0e8c0e"/><circle cx="475.67" cy="216.1" r="1.85" fill="#0e8c0e"/><circle cx="480.04" cy="212.06" r="1.85" fill="#0e8c0e"/><circle cx="484.41" cy="207.65" r="1.85" fill="#0e8c0e"/><circle cx="488.78" cy="202.79" r="1.85" fill="#0e8c0e"/><circle cx="493.15" cy="197.38" r="1.85" fill="#0e8c0e"/><circle cx="497.52" cy="191.31" r="1.85" fill="#0e8c0e"/><circle cx="501.89" cy="184.4" r="1.85" fill="#0e8c0e"/><circle cx="506.26" cy="176.45" r="1.85" fill="#0e8c0e"/><circle cx="510.63" cy="167.16" r="1.85" fill="#0e8c0e"/><circle cx="515" cy="156.09" r="1.85" fill="#0e8c0e"/>
<path d="M296.5 255.03 L515 255.03" fill="none" stroke="#8ad8c4" stroke-width="1.6" stroke-dasharray="1.5 1.9"/>
<path d="M296.5 231.55 L297.88 233.2 L299.27 234.75 L300.65 236.21 L302.03 237.58 L303.41 238.86 L304.8 240.07 L306.18 241.2 L307.56 242.26 L308.95 243.25 L310.33 244.19 L311.71 245.07 L313.09 245.89 L314.48 246.66 L315.86 247.39 L317.24 248.07 L318.63 248.71 L320.01 249.31 L321.39 249.87 L322.78 250.4 L324.16 250.9 L325.54 251.37 L326.92 251.8 L328.31 252.21 L329.69 252.6 L331.07 252.96 L332.46 253.3 L333.84 253.62 L335.22 253.92 L336.6 254.2 L337.99 254.46 L339.37 254.71 L340.75 254.94 L342.14 255.16 L343.52 255.37 L344.9 255.56 L346.28 255.74 L347.67 255.91 L349.05 256.07 L350.43 256.22 L351.82 256.36 L353.2 256.49 L354.58 256.61 L355.97 256.73 L357.35 256.84 L358.73 256.94 L360.11 257.03 L361.5 257.12 L362.88 257.21 L364.26 257.29 L365.65 257.36 L367.03 257.43 L368.41 257.5 L369.79 257.56 L371.18 257.62 L372.56 257.67 L373.94 257.72 L375.33 257.77 L376.71 257.81 L378.09 257.86 L379.47 257.9 L380.86 257.93 L382.24 257.97 L383.62 258 L385.01 258.03 L386.39 258.06 L387.77 258.09 L389.16 258.11 L390.54 258.14 L391.92 258.16 L393.3 258.18 L394.69 258.2 L396.07 258.22 L397.45 258.23 L398.84 258.25 L400.22 258.27 L401.6 258.28 L402.98 258.29 L404.37 258.31 L405.75 258.32" fill="none" stroke="#7126d6" stroke-width="2.3" stroke-dasharray="5.8 3.2"/>
<path d="M515 231.55 L513.62 233.2 L512.23 234.75 L510.85 236.21 L509.47 237.58 L508.09 238.86 L506.7 240.07 L505.32 241.2 L503.94 242.26 L502.55 243.25 L501.17 244.19 L499.79 245.07 L498.41 245.89 L497.02 246.66 L495.64 247.39 L494.26 248.07 L492.87 248.71 L491.49 249.31 L490.11 249.87 L488.72 250.4 L487.34 250.9 L485.96 251.37 L484.58 251.8 L483.19 252.21 L481.81 252.6 L480.43 252.96 L479.04 253.3 L477.66 253.62 L476.28 253.92 L474.9 254.2 L473.51 254.46 L472.13 254.71 L470.75 254.94 L469.36 255.16 L467.98 255.37 L466.6 255.56 L465.22 255.74 L463.83 255.91 L462.45 256.07 L461.07 256.22 L459.68 256.36 L458.3 256.49 L456.92 256.61 L455.53 256.73 L454.15 256.84 L452.77 256.94 L451.39 257.03 L450 257.12 L448.62 257.21 L447.24 257.29 L445.85 257.36 L444.47 257.43 L443.09 257.5 L441.71 257.56 L440.32 257.62 L438.94 257.67 L437.56 257.72 L436.17 257.77 L434.79 257.81 L433.41 257.86 L432.03 257.9 L430.64 257.93 L429.26 257.97 L427.88 258 L426.49 258.03 L425.11 258.06 L423.73 258.09 L422.34 258.11 L420.96 258.14 L419.58 258.16 L418.2 258.18 L416.81 258.2 L415.43 258.22 L414.05 258.23 L412.66 258.25 L411.28 258.27 L409.9 258.28 L408.52 258.29 L407.13 258.31 L405.75 258.32" fill="none" stroke="#7126d6" stroke-width="2.3" stroke-dasharray="5.8 3.2"/>
</g>
<rect x="296.5" y="100.9" width="218.5" height="157.6" fill="none" stroke="#424242" stroke-width="1.4"/>
<path d="M296.5 258.18 L515 258.18" fill="none" stroke="#e0183a" stroke-width="2.4" stroke-dasharray="7 7.7" stroke-dashoffset="-0.3"/>
<line x1="296.5" y1="258.5" x2="296.5" y2="256.5" stroke="#424242" stroke-width="0.8"/>
<line x1="296.5" y1="100.9" x2="296.5" y2="102.9" stroke="#424242" stroke-width="0.8"/>
<line x1="330.12" y1="258.5" x2="330.12" y2="256.5" stroke="#424242" stroke-width="0.8"/>
<line x1="330.12" y1="100.9" x2="330.12" y2="102.9" stroke="#424242" stroke-width="0.8"/>
<line x1="363.73" y1="258.5" x2="363.73" y2="256.5" stroke="#424242" stroke-width="0.8"/>
<line x1="363.73" y1="100.9" x2="363.73" y2="102.9" stroke="#424242" stroke-width="0.8"/>
<line x1="405.75" y1="258.5" x2="405.75" y2="256.5" stroke="#424242" stroke-width="0.8"/>
<line x1="405.75" y1="100.9" x2="405.75" y2="102.9" stroke="#424242" stroke-width="0.8"/>
<line x1="447.77" y1="258.5" x2="447.77" y2="256.5" stroke="#424242" stroke-width="0.8"/>
<line x1="447.77" y1="100.9" x2="447.77" y2="102.9" stroke="#424242" stroke-width="0.8"/>
<line x1="481.38" y1="258.5" x2="481.38" y2="256.5" stroke="#424242" stroke-width="0.8"/>
<line x1="481.38" y1="100.9" x2="481.38" y2="102.9" stroke="#424242" stroke-width="0.8"/>
<line x1="515" y1="258.5" x2="515" y2="256.5" stroke="#424242" stroke-width="0.8"/>
<line x1="515" y1="100.9" x2="515" y2="102.9" stroke="#424242" stroke-width="0.8"/>
<line x1="296.5" y1="258.5" x2="298.5" y2="258.5" stroke="#424242" stroke-width="0.8"/>
<line x1="515" y1="258.5" x2="513" y2="258.5" stroke="#424242" stroke-width="0.8"/>
<line x1="296.5" y1="226.98" x2="298.5" y2="226.98" stroke="#424242" stroke-width="0.8"/>
<line x1="515" y1="226.98" x2="513" y2="226.98" stroke="#424242" stroke-width="0.8"/>
<line x1="296.5" y1="195.46" x2="298.5" y2="195.46" stroke="#424242" stroke-width="0.8"/>
<line x1="515" y1="195.46" x2="513" y2="195.46" stroke="#424242" stroke-width="0.8"/>
<line x1="296.5" y1="163.94" x2="298.5" y2="163.94" stroke="#424242" stroke-width="0.8"/>
<line x1="515" y1="163.94" x2="513" y2="163.94" stroke="#424242" stroke-width="0.8"/>
<line x1="296.5" y1="132.42" x2="298.5" y2="132.42" stroke="#424242" stroke-width="0.8"/>
<line x1="515" y1="132.42" x2="513" y2="132.42" stroke="#424242" stroke-width="0.8"/>
<line x1="296.5" y1="100.9" x2="298.5" y2="100.9" stroke="#424242" stroke-width="0.8"/>
<line x1="515" y1="100.9" x2="513" y2="100.9" stroke="#424242" stroke-width="0.8"/>
<text x="296.5" y="269.8" class="tk" text-anchor="middle">-65</text>
<text x="330.12" y="269.8" class="tk" text-anchor="middle">-45</text>
<text x="363.73" y="269.8" class="tk" text-anchor="middle">-25</text>
<text x="405.75" y="269.8" class="tk" text-anchor="middle">0</text>
<text x="447.77" y="269.8" class="tk" text-anchor="middle">25</text>
<text x="481.38" y="269.8" class="tk" text-anchor="middle">45</text>
<text x="515" y="269.8" class="tk" text-anchor="middle">65</text>
<text x="293.5" y="261.4" class="tk" text-anchor="end">0</text>
<text x="293.5" y="229.88" class="tk" text-anchor="end">0.02</text>
<text x="293.5" y="198.36" class="tk" text-anchor="end">0.04</text>
<text x="293.5" y="166.84" class="tk" text-anchor="end">0.06</text>
<text x="293.5" y="135.32" class="tk" text-anchor="end">0.08</text>
<text x="293.5" y="103.8" class="tk" text-anchor="end">0.1</text>
<text x="96.0" y="97.8" class="ti" textLength="91.3" lengthAdjust="spacing">CW, <tspan font-style="italic">T</tspan> = 0.145 ms</text>
<text x="314.2" y="97.8" class="ti">FM,</text>
<text x="337.6" y="97.8" class="ti" font-style="italic">B</text>
<text x="345.0" y="99.7" class="sub" font-style="italic" textLength="12.6" lengthAdjust="spacing">eff</text>
<text x="358.6" y="97.8" class="ti" textLength="63.5" lengthAdjust="spacing">= 2.615 kHz,</text>
<text x="425.0" y="97.8" class="ti" font-style="italic">T</text>
<text x="430.0" y="99.7" class="sub" font-style="italic" textLength="12.2" lengthAdjust="spacing">eff</text>
<text x="442.6" y="97.8" class="ti" textLength="54.6" lengthAdjust="spacing">= 0.382 ms</text>
<text transform="translate(9.6,199.5) rotate(-90)" class="xl" textLength="42" lengthAdjust="spacing">RVU [m]</text>
<text transform="translate(271.6,200.3) rotate(-90)" class="xl" textLength="41.5" lengthAdjust="spacing">RVU [m]</text>
<text y="281.6" class="xl"><tspan x="94" textLength="26.8" lengthAdjust="spacingAndGlyphs">Beam</tspan> <tspan x="123.2" textLength="25.4" lengthAdjust="spacingAndGlyphs">angle</tspan> <tspan x="151.9" textLength="40" lengthAdjust="spacingAndGlyphs">[degrees]</tspan></text>
<text y="282.4" class="xl"><tspan x="356.6" textLength="26.8" lengthAdjust="spacingAndGlyphs">Beam</tspan> <tspan x="385.8" textLength="25.4" lengthAdjust="spacingAndGlyphs">angle</tspan> <tspan x="414.5" textLength="40" lengthAdjust="spacingAndGlyphs">[degrees]</tspan></text>
<text x="140" y="295.0" class="ab" text-anchor="middle">(a)</text>
<text x="405.1" y="295.3" class="ab" text-anchor="middle">(b)</text>
<rect x="203.3" y="0.7" width="135.7" height="79.6" fill="#ffffff" stroke="#d4d4d4" stroke-width="0.9"/>
<line x1="204.5" y1="5.2" x2="213" y2="5.2" stroke="#78ead3" stroke-width="1.6"/>
<text x="213.9" y="7.5" class="lg">Total</text>
<circle cx="209" cy="15.2" r="0.9" fill="#535d5b"/>
<text x="213.9" y="17.5" class="lg">Range measurement</text>
<line x1="204.5" y1="25.2" x2="213" y2="25.2" stroke="#1eb21e" stroke-width="1.4"/>
<circle cx="209" cy="25.2" r="1.3" fill="#0e8c0e"/>
<text x="213.9" y="27.5" class="lg">Roll and steering angle</text>
<line x1="205.5" y1="35.2" x2="209.5" y2="35.2" stroke="#e0183a" stroke-width="1.4"/>
<text x="213.9" y="37.5" class="lg">Pitch angle</text>
<line x1="204.5" y1="45.2" x2="213" y2="45.2" stroke="#b5ebdf" stroke-width="1.1" stroke-dasharray="1 1"/>
<text x="213.9" y="47.5" class="lg">Along-track opening angle</text>
<line x1="204.3" y1="55.2" x2="213" y2="55.2" stroke="#6a2cc0" stroke-width="1.1" stroke-dasharray="3.2 1.3"/>
<text x="213.9" y="57.5" class="lg">Sound speed profile</text>
<line x1="204.5" y1="65.2" x2="213" y2="65.2" stroke="#535d5b" stroke-width="1.2"/>
<circle cx="209" cy="65.2" r="0.9" fill="#535d5b"/>
<text x="213.9" y="67.5" class="lg">Range measurements with additive</text>
<line x1="204.5" y1="75.2" x2="213" y2="75.2" stroke="#80eed8" stroke-width="1.2"/>
<circle cx="209" cy="75.2" r="1" fill="#80eed8"/>
<text x="213.9" y="77.5" class="lg">Total with additive</text>
</svg>
</body></html>
